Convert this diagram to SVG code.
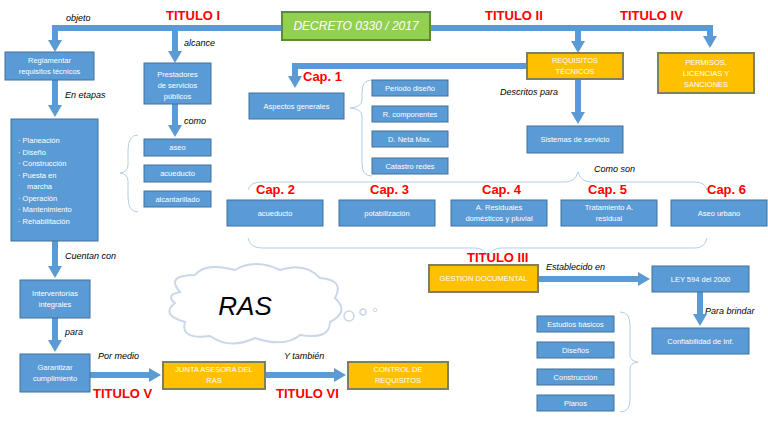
<svg xmlns="http://www.w3.org/2000/svg" width="768" height="433" viewBox="0 0 768 433">
<style>
.b{fill:#5B9BD5;stroke:#41719C;stroke-width:1}
.o{fill:#FFC000;stroke:#7F7F5F;stroke-width:2}
.g{fill:#92D050;stroke:#5E8C31;stroke-width:2}
.t{font-family:"Liberation Sans",Arial,sans-serif;font-size:7.5px;fill:#fff;text-anchor:middle}
.l{font-family:"Liberation Sans",Arial,sans-serif;font-size:9px;font-style:italic;fill:#000}
.r{font-family:"Liberation Sans",Arial,sans-serif;font-size:13px;font-weight:bold;fill:#FF0000}
.c{fill:none;stroke:#5B9BD5;stroke-width:6}
.br{fill:none;stroke:#B4CDE8;stroke-width:1}
</style>
<defs>
<marker id="a" markerUnits="userSpaceOnUse" markerWidth="16" markerHeight="14" refX="2" refY="7" orient="auto">
<path d="M0,0 L12,7 L0,14 z" fill="#5B9BD5"/>
</marker>
</defs>
<g id="connectors">
<path class="c" d="M282,28 H55 V42" marker-end="url(#a)"/>
<path class="c" d="M175,28 V53" marker-end="url(#a)"/>
<path class="c" d="M430,28 H710 V38" marker-end="url(#a)"/>
<path class="c" d="M578,28 V43" marker-end="url(#a)"/>
<path class="c" d="M527,66 H295 V78" marker-end="url(#a)"/>
<path class="c" d="M578,79 V114" marker-end="url(#a)"/>
<path class="c" d="M55,80 V107" marker-end="url(#a)"/>
<path class="c" d="M175,104 V127" marker-end="url(#a)"/>
<path class="c" d="M55,241 V268" marker-end="url(#a)"/>
<path class="c" d="M55,318 V342" marker-end="url(#a)"/>
<path class="c" d="M90,375 H151" marker-end="url(#a)"/>
<path class="c" d="M265,375 H336" marker-end="url(#a)"/>
<path class="c" d="M538,279 H640" marker-end="url(#a)"/>
<path class="c" d="M700,292 V316" marker-end="url(#a)"/>
</g>
<g id="braces">
<path class="br" d="M138,135 Q128,135 128,150 V165 Q128,172 120,173 Q128,174 128,181 V197 Q128,212 138,212"/>
<path class="br" d="M372,80 Q362,80 362,92 V100 Q362,107 350,108 Q362,109 362,116 V164 Q362,176 372,176"/>
<path class="br" d="M248,190 Q250,182 262,182 H565 Q575,182 578,172 Q581,182 591,182 H695 Q705,182 707,190"/>
<path class="br" d="M248,238 Q250,248 262,248 H475 Q485,248 488,258 Q491,248 501,248 H695 Q705,248 707,238"/>
<path class="br" d="M620,312 Q630,312 630,325 V355 Q630,361 638,362 Q630,363 630,369 V400 Q630,412 620,412"/>
</g>
<g id="cloud">
<path d="M180,292 Q165,275 195,275 Q205,262 235,270 Q255,258 280,270 Q305,262 320,278 Q345,280 335,298 Q350,312 330,322 Q330,340 300,335 Q285,348 255,338 Q230,350 210,336 Q180,340 185,322 Q160,315 175,303 Q165,295 180,292 Z" fill="#fff" stroke="#C9D7E8" stroke-width="2"/>
<circle cx="349" cy="316" r="5" fill="#fff" stroke="#C9D7E8" stroke-width="1.5"/>
<circle cx="363" cy="312" r="3" fill="#fff" stroke="#C9D7E8" stroke-width="1.5"/>
<circle cx="375" cy="310" r="1.8" fill="#fff" stroke="#C9D7E8" stroke-width="1"/>
<text x="245" y="315" font-family="Liberation Sans,Arial,sans-serif" font-size="26" font-style="italic" text-anchor="middle">RAS</text>
</g>
<g id="decreto"><rect class="g" x="282" y="12" width="148" height="28"/><text x="356" y="30" font-family="Liberation Sans,Arial,sans-serif" font-size="12" font-style="italic" fill="#fff" text-anchor="middle">DECRETO 0330 / 2017</text></g>
<g id="reglamentar"><rect class="b" x="5" y="52" width="89" height="28"/><text class="t" x="49.5" y="63">Reglamentar</text><text class="t" x="49.5" y="74">requisitos técnicos</text></g>
<g id="prestadores"><rect class="b" x="144" y="63" width="67" height="41"/><text class="t" x="177.5" y="77">Prestadores</text><text class="t" x="177.5" y="88">de servicios</text><text class="t" x="177.5" y="99">públicos</text></g>
<g id="etapas"><rect class="b" x="11" y="119" width="87" height="122"/>
<g font-family="Liberation Sans,Arial,sans-serif" font-size="7.5" fill="#fff">
<text x="18" y="143">·   Planeación</text><text x="18" y="155">·   Diseño</text><text x="18" y="166">·   Construcción</text><text x="18" y="178">·   Puesta en</text><text x="27" y="189">marcha</text><text x="18" y="201">·   Operación</text><text x="18" y="212">·   Mantenimiento</text><text x="18" y="224">·   Rehabilitación</text></g></g>
<g id="aseo"><rect class="b" x="144" y="139" width="67" height="17"/><text class="t" x="177.5" y="150">aseo</text></g>
<g id="acueducto1"><rect class="b" x="144" y="165" width="67" height="17"/><text class="t" x="177.5" y="176">acueducto</text></g>
<g id="alcantarillado"><rect class="b" x="144" y="191" width="67" height="16"/><text class="t" x="177.5" y="202">alcantarillado</text></g>
<g id="aspectos"><rect class="b" x="249" y="93" width="95" height="26"/><text class="t" x="296.5" y="109">Aspectos generales</text></g>
<g id="periodo"><rect class="b" x="372" y="80" width="76" height="16"/><text class="t" x="410" y="91">Periodo diseño</text></g>
<g id="rcomp"><rect class="b" x="372" y="106" width="76" height="16"/><text class="t" x="410" y="117">R. componentes</text></g>
<g id="dneta"><rect class="b" x="372" y="131" width="76" height="16"/><text class="t" x="410" y="142">D. Neta Max.</text></g>
<g id="catastro"><rect class="b" x="372" y="158" width="76" height="16"/><text class="t" x="410" y="169">Catastro redes</text></g>
<g id="requisitos"><rect class="o" x="527" y="53" width="96" height="26"/><text class="t" x="575" y="63">REQUISITOS</text><text class="t" x="575" y="74">TÉCNICOS</text></g>
<g id="permisos"><rect class="o" x="658" y="53" width="96" height="40"/><text class="t" x="706" y="65">PERMISOS,</text><text class="t" x="706" y="76">LICENCIAS Y</text><text class="t" x="706" y="87">SANCIONES</text></g>
<g id="sistemas"><rect class="b" x="527" y="126" width="96" height="27"/><text class="t" x="575" y="142">Sistemas de servicio</text></g>
<g id="cap2"><rect class="b" x="227" y="200" width="96" height="26"/><text class="t" x="275" y="216">acueducto</text></g>
<g id="cap3"><rect class="b" x="339" y="200" width="96" height="26"/><text class="t" x="387" y="216">potabilización</text></g>
<g id="cap4"><rect class="b" x="451" y="200" width="96" height="26"/><text class="t" x="499" y="210">A. Residuales</text><text class="t" x="499" y="221">domésticos y pluvial</text></g>
<g id="cap5"><rect class="b" x="561" y="200" width="96" height="26"/><text class="t" x="609" y="210">Tratamiento A.</text><text class="t" x="609" y="221">residual</text></g>
<g id="cap6"><rect class="b" x="671" y="200" width="96" height="26"/><text class="t" x="719" y="216">Aseo urbano</text></g>
<g id="gestion"><rect class="o" x="429" y="265" width="109" height="27"/><text class="t" x="483.5" y="281">GESTION DOCUMENTAL</text></g>
<g id="ley"><rect class="b" x="652" y="266" width="97" height="26"/><text class="t" x="700.5" y="282">LEY 594 del 2000</text></g>
<g id="confiabilidad"><rect class="b" x="652" y="328" width="97" height="26"/><text class="t" x="700.5" y="344">Confiabilidad de Inf.</text></g>
<g id="estudios"><rect class="b" x="537" y="316" width="77" height="16"/><text class="t" x="575.5" y="327">Estudios básicos</text></g>
<g id="disenos"><rect class="b" x="537" y="342" width="77" height="16"/><text class="t" x="575.5" y="353">Diseños</text></g>
<g id="construccion"><rect class="b" x="537" y="369" width="77" height="16"/><text class="t" x="575.5" y="380">Construcción</text></g>
<g id="planos"><rect class="b" x="537" y="395" width="77" height="16"/><text class="t" x="575.5" y="406">Planos</text></g>
<g id="interventorias"><rect class="b" x="20" y="280" width="70" height="38"/><text class="t" x="55" y="296">Interventorías</text><text class="t" x="55" y="307">integrales</text></g>
<g id="garantizar"><rect class="b" x="20" y="354" width="70" height="38"/><text class="t" x="55" y="370">Garantizar</text><text class="t" x="55" y="381">cumplimiento</text></g>
<g id="junta"><rect class="o" x="163" y="362" width="102" height="27"/><text class="t" x="214" y="372">JUNTA ASESORA DEL</text><text class="t" x="214" y="383">RAS</text></g>
<g id="control"><rect class="o" x="348" y="362" width="100" height="27"/><text class="t" x="398" y="372">CONTROL DE</text><text class="t" x="398" y="383">REQUISITOS</text></g>
<g id="labels">
<text class="l" x="66" y="21">objeto</text>
<text class="l" x="184" y="46">alcance</text>
<text class="l" x="65" y="98">En etapas</text>
<text class="l" x="184" y="124">como</text>
<text class="l" x="65" y="259">Cuentan con</text>
<text class="l" x="65" y="335">para</text>
<text class="l" x="98" y="359">Por medio</text>
<text class="l" x="284" y="359">Y también</text>
<text class="l" x="500" y="95">Descritos para</text>
<text class="l" x="594" y="172">Como son</text>
<text class="l" x="546" y="270">Establecido en</text>
<text class="l" x="705" y="314">Para brindar</text>
<text class="r" x="166" y="20">TITULO I</text>
<text class="r" x="485" y="20">TITULO II</text>
<text class="r" x="620" y="20">TITULO IV</text>
<text class="r" x="467" y="262">TITULO III</text>
<text class="r" x="93" y="398">TITULO V</text>
<text class="r" x="276" y="398">TITULO VI</text>
<text class="r" x="303" y="81">Cap. 1</text>
<text class="r" x="256" y="194">Cap. 2</text>
<text class="r" x="370" y="194">Cap. 3</text>
<text class="r" x="482" y="194">Cap. 4</text>
<text class="r" x="588" y="194">Cap. 5</text>
<text class="r" x="707" y="194">Cap. 6</text>
</g>
</svg>
